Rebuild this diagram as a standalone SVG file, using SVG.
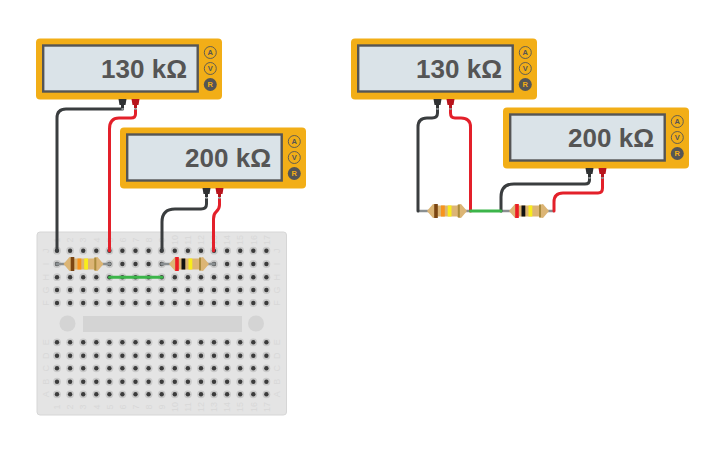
<svg xmlns="http://www.w3.org/2000/svg" xmlns:xlink="http://www.w3.org/1999/xlink" width="725" height="453" viewBox="0 0 725 453">
<style>
.case{fill:#f2ae17}
.screen{fill:#dae3e8;stroke:#555;stroke-width:2.4}
.read{font:bold 26px "Liberation Sans",Arial,sans-serif;fill:#555;text-anchor:end}
.btn{fill:none;stroke:#555;stroke-width:.9}
.btnt{font:bold 7.500px "Liberation Sans",Arial,sans-serif;fill:#555;text-anchor:middle}
.on{fill:#555}
.ont{font:bold 7.500px "Liberation Sans",Arial,sans-serif;fill:#f2ae17;text-anchor:middle}
.w{fill:none;stroke-width:3;stroke-linecap:round;stroke-linejoin:round}
.k{stroke:#3a3d3f}.r{stroke:#e3202a}.g{stroke:#3cb54a}
.lead{stroke:#8a8f91;stroke-width:2.400;fill:none}
.body{fill:#dcb575}
.bb{font:9px "Liberation Sans",Arial,sans-serif;fill:#d8d8d8;text-anchor:middle}
</style>
<defs>
<g id="meter">
<rect class="case" width="186" height="61" rx="4"/>
<rect class="screen" x="7.200" y="7" width="154.500" height="46"/>
<circle class="btn" cx="174.300" cy="14" r="6"/><text class="btnt" x="174.300" y="16.700">A</text>
<circle class="btn" cx="174.300" cy="30" r="6"/><text class="btnt" x="174.300" y="32.700">V</text>
<circle class="on" cx="174.300" cy="46" r="6.500"/><text class="ont" x="174.300" y="48.700">R</text>
</g>
<g id="probes">
<path d="M-4,0h8l-1,6h-1.500v3h-3v-3h-1.500z" fill="#2f3133"/>
<path d="M9,0h8l-1,6h-1.500v3h-3v-3h-1.500z" fill="#b8141c"/>
<path d="M-1,9h2v2h-2zM12,9h2v2h-2z" fill="#8a8f91"/>
</g>
<g id="hole"><circle r="3.900" fill="#c9c9c9"/><circle r="2.200" fill="#3c3c3c"/></g>
<g id="row">
<use href="#hole" x="57"/><use href="#hole" x="70.100"/><use href="#hole" x="83.200"/><use href="#hole" x="96.300"/><use href="#hole" x="109.400"/><use href="#hole" x="122.400"/><use href="#hole" x="135.500"/><use href="#hole" x="148.600"/><use href="#hole" x="161.700"/><use href="#hole" x="174.800"/><use href="#hole" x="187.900"/><use href="#hole" x="201"/><use href="#hole" x="214"/><use href="#hole" x="227.100"/><use href="#hole" x="240.200"/><use href="#hole" x="253.300"/><use href="#hole" x="266.400"/>
</g>
<path id="rbody" class="body" d="M-20,0L-14,-7Q-12,-7 -10,-5.500H10Q12,-7 14,-7L20,0L14,7Q12,7 10,5.500H-10Q-12,7 -14,7Z"/>
</defs>

<g id="breadboard">
<rect x="37" y="232" width="249.500" height="183" rx="3" fill="#e4e4e4" stroke="#d6d6d6"/>
<rect x="83" y="316" width="159" height="16" fill="#d4d4d4"/>
<circle cx="67.500" cy="323.500" r="8" fill="#d4d4d4"/>
<circle cx="256" cy="323.500" r="8" fill="#d4d4d4"/>
<use href="#row" y="250.700"/><use href="#row" y="264"/><use href="#row" y="277.200"/><use href="#row" y="290"/><use href="#row" y="303"/>
<use href="#row" y="342.300"/><use href="#row" y="355.700"/><use href="#row" y="368.300"/><use href="#row" y="381.700"/><use href="#row" y="394.300"/>
<g class="bb">
<text transform="translate(60.200,240) rotate(-90)">1</text><text transform="translate(73.300,240) rotate(-90)">2</text><text transform="translate(86.400,240) rotate(-90)">3</text><text transform="translate(99.500,240) rotate(-90)">4</text><text transform="translate(112.600,240) rotate(-90)">5</text><text transform="translate(125.600,240) rotate(-90)">6</text><text transform="translate(138.700,240) rotate(-90)">7</text><text transform="translate(151.800,240) rotate(-90)">8</text><text transform="translate(164.900,240) rotate(-90)">9</text><text transform="translate(178,240) rotate(-90)">10</text><text transform="translate(191.100,240) rotate(-90)">11</text><text transform="translate(204.200,240) rotate(-90)">12</text><text transform="translate(217.200,240) rotate(-90)">13</text><text transform="translate(230.300,240) rotate(-90)">14</text><text transform="translate(243.400,240) rotate(-90)">15</text><text transform="translate(256.500,240) rotate(-90)">16</text><text transform="translate(269.600,240) rotate(-90)">17</text>
<text transform="translate(60.200,407) rotate(-90)">1</text><text transform="translate(73.300,407) rotate(-90)">2</text><text transform="translate(86.400,407) rotate(-90)">3</text><text transform="translate(99.500,407) rotate(-90)">4</text><text transform="translate(112.600,407) rotate(-90)">5</text><text transform="translate(125.600,407) rotate(-90)">6</text><text transform="translate(138.700,407) rotate(-90)">7</text><text transform="translate(151.800,407) rotate(-90)">8</text><text transform="translate(164.900,407) rotate(-90)">9</text><text transform="translate(178,407) rotate(-90)">10</text><text transform="translate(191.100,407) rotate(-90)">11</text><text transform="translate(204.200,407) rotate(-90)">12</text><text transform="translate(217.200,407) rotate(-90)">13</text><text transform="translate(230.300,407) rotate(-90)">14</text><text transform="translate(243.400,407) rotate(-90)">15</text><text transform="translate(256.500,407) rotate(-90)">16</text><text transform="translate(269.600,407) rotate(-90)">17</text>
<text transform="translate(49,250.700) rotate(-90)">J</text><text transform="translate(49,264) rotate(-90)">I</text><text transform="translate(49,277.200) rotate(-90)">H</text><text transform="translate(49,290) rotate(-90)">G</text><text transform="translate(49,303) rotate(-90)">F</text>
<text transform="translate(49,342.300) rotate(-90)">E</text><text transform="translate(49,355.700) rotate(-90)">D</text><text transform="translate(49,368.300) rotate(-90)">C</text><text transform="translate(49,381.700) rotate(-90)">B</text><text transform="translate(49,394.300) rotate(-90)">A</text>
<text transform="translate(280,250.700) rotate(-90)">J</text><text transform="translate(280,264) rotate(-90)">I</text><text transform="translate(280,277.200) rotate(-90)">H</text><text transform="translate(280,290) rotate(-90)">G</text><text transform="translate(280,303) rotate(-90)">F</text>
<text transform="translate(280,342.300) rotate(-90)">E</text><text transform="translate(280,355.700) rotate(-90)">D</text><text transform="translate(280,368.300) rotate(-90)">C</text><text transform="translate(280,381.700) rotate(-90)">B</text><text transform="translate(280,394.300) rotate(-90)">A</text>
</g>
</g>

<g id="resistor-bb-1" transform="translate(83.500,264)">
<path class="lead" d="M-26.500,0H26"/><circle cx="-26.500" r="1.800" fill="#8a8f91"/><circle cx="26" r="1.800" fill="#8a8f91"/>
<use href="#rbody"/>
<rect x="-12.800" y="-7" width="3.600" height="14" fill="#7b4512"/><rect x="-6" y="-5.500" width="3.800" height="11" fill="#f7941d"/><rect x="0.700" y="-5.500" width="3.800" height="11" fill="#f9ed1b"/><rect x="10.800" y="-6.500" width="2" height="13" fill="#a98b3c"/>
</g>
<g id="resistor-bb-2" transform="translate(189,264)">
<path class="lead" d="M-27,0H25"/><circle cx="-27" r="1.800" fill="#8a8f91"/><circle cx="25" r="1.800" fill="#8a8f91"/>
<use href="#rbody"/>
<rect x="-13.800" y="-7" width="3.600" height="14" fill="#ec1c24"/><rect x="-7.500" y="-5.500" width="3.800" height="11" fill="#111"/><rect x="-0.500" y="-5.500" width="3.800" height="11" fill="#f9ed1b"/><rect x="10" y="-6.500" width="2" height="13" fill="#a98b3c"/>
</g>
<g id="resistor-sch-1" transform="translate(447,211)">
<path class="lead" d="M-29,0H23"/>
<use href="#rbody"/>
<rect x="-12.800" y="-7" width="3.600" height="14" fill="#7b4512"/><rect x="-6" y="-5.500" width="3.800" height="11" fill="#f7941d"/><rect x="0.700" y="-5.500" width="3.800" height="11" fill="#f9ed1b"/><rect x="10.800" y="-6.500" width="2" height="13" fill="#a98b3c"/>
</g>
<g id="resistor-sch-2" transform="translate(529,211)">
<path class="lead" d="M-28,0H25"/>
<use href="#rbody"/>
<rect x="-13.800" y="-7" width="3.600" height="14" fill="#ec1c24"/><rect x="-7.500" y="-5.500" width="3.800" height="11" fill="#111"/><rect x="-0.500" y="-5.500" width="3.800" height="11" fill="#f9ed1b"/><rect x="10" y="-6.500" width="2" height="13" fill="#a98b3c"/>
</g>

<g id="connectors">
<path class="w k" d="M122.500,109H66Q57,109 57,118V250.700"/>
<path class="w r" d="M135.500,110V114Q135.500,118 131,118H119Q109.500,118 109.500,129V250.700"/>
<path class="w k" d="M206.500,199V204Q206.500,209 201,209H175Q162,209 162,222V250.700"/>
<path class="w r" d="M219.500,199V205Q219.500,209 216,212Q213.500,214 213.500,219V250.700"/>
<path class="w g" d="M109.500,277.200H162"/>
<path class="w k" d="M437.500,109V113Q437.500,118 432,118H427Q418,118 418,127V211"/>
<path class="w r" d="M450.500,109V113Q450.500,118 455,118H461Q470.500,118 470.500,127V211"/>
<path class="w k" d="M589.500,178V180Q589.500,184 585,184H514Q501,184 501,197V211"/>
<path class="w r" d="M602.500,178V188Q602.500,193 598,193H563Q554,193 554,202V211"/>
<path class="w g" d="M470.500,211H501"/>
</g>

<g id="meter-1"><use href="#meter" x="36" y="38.500"/><use href="#probes" x="122.500" y="99"/><text class="read" x="187" y="77.500">130 kΩ</text></g>
<g id="meter-2"><use href="#meter" x="120" y="127.500"/><use href="#probes" x="206.500" y="188"/><text class="read" x="271" y="166.500">200 kΩ</text></g>
<g id="meter-3"><use href="#meter" x="351" y="38.500"/><use href="#probes" x="437.500" y="99"/><text class="read" x="502" y="77.500">130 kΩ</text></g>
<g id="meter-4"><use href="#meter" x="503" y="107.500"/><use href="#probes" x="589.500" y="168"/><text class="read" x="654" y="146.500">200 kΩ</text></g>
</svg>
